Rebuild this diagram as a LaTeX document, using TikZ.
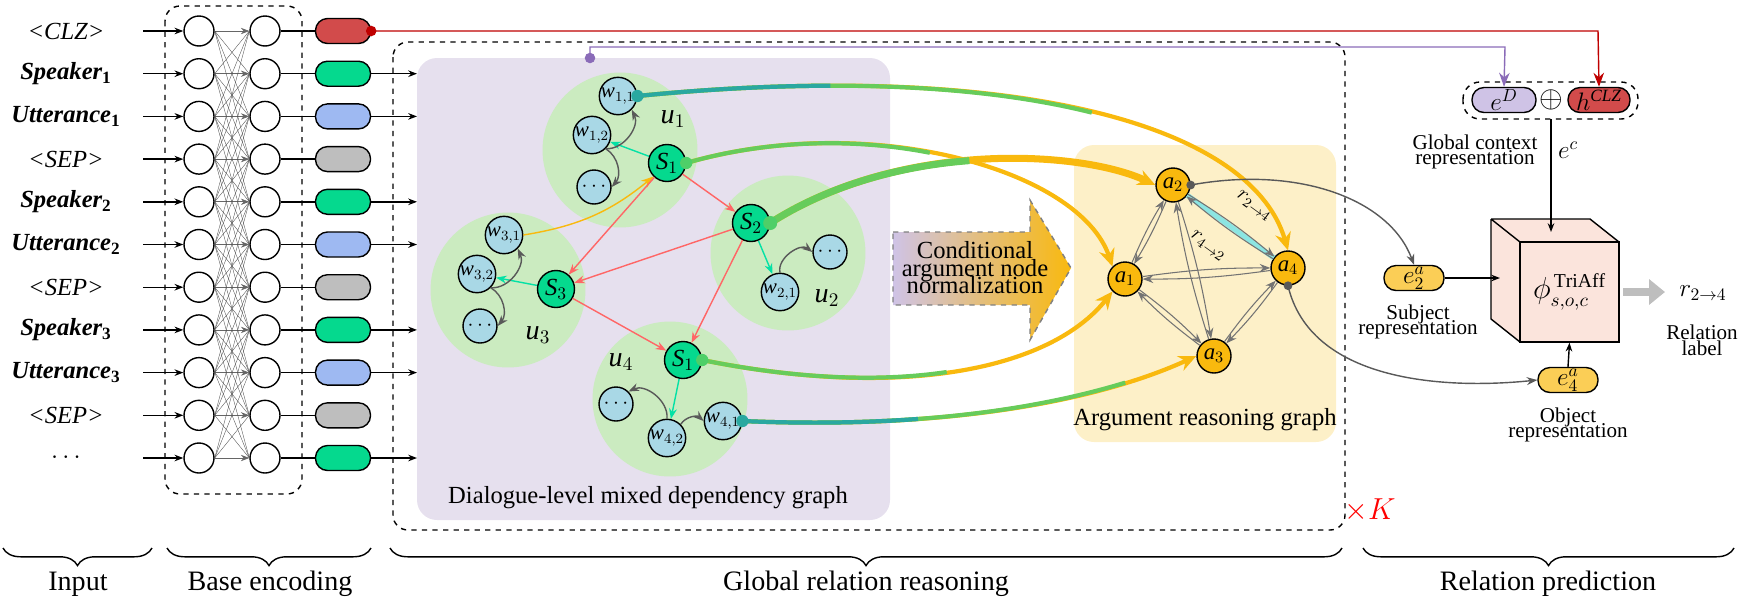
\documentclass[tikz,border=0pt]{standalone}
\usepackage{fontspec}
\setmainfont{Liberation Serif}
\usetikzlibrary{arrows.meta,shapes.geometric,shapes.arrows,decorations.pathreplacing,calc}
\definecolor{cred}{HTML}{D24B4B}
\definecolor{cgreen}{HTML}{05D98E}
\definecolor{cblue}{HTML}{9EB9F2}
\definecolor{cgray}{HTML}{BEBEBE}
\definecolor{lpurple}{HTML}{E6E0EE}
\definecolor{lgreen}{HTML}{CBEBC0}
\definecolor{lblue}{HTML}{A9D8E6}
\definecolor{ayellow}{HTML}{F9B90E}
\definecolor{lyellow}{HTML}{FDF0C8}
\definecolor{cteal}{HTML}{2AA8A0}
\definecolor{cpink}{HTML}{FBE4DC}
\definecolor{lilac}{HTML}{CFC3E6}
\definecolor{cviolet}{HTML}{8A6BB8}
\tikzset{
  labn/.style={font=\fontsize{14}{16}\selectfont\itshape},
  neu/.style={circle,draw,thick,fill=white,minimum width=0.54cm,minimum height=0.6cm,inner sep=0pt},
  pill/.style={draw,thick,rounded corners=0.24cm,minimum width=1.1cm,minimum height=0.5cm,inner sep=0pt},
  ucirc/.style={circle,fill=lgreen,minimum size=3.1cm,inner sep=0pt},
  wn/.style={circle,draw,thick,fill=lblue,minimum size=0.68cm,inner sep=0pt,font=\fontsize{12}{12}\selectfont\itshape},
  sn/.style={circle,draw,thick,fill=cgreen,minimum size=0.74cm,inner sep=0pt,font=\fontsize{14}{14}\selectfont\itshape},
  an/.style={circle,draw,thick,fill=ayellow,minimum size=0.68cm,inner sep=0pt,font=\fontsize{13}{13}\selectfont\itshape},
  ar/.style={-{Stealth[length=5pt]},thick},
  redar/.style={-{Stealth[length=6pt]},draw=red!60,thick},
  cyar/.style={-{Stealth[length=6pt]},draw=cgreen!80!cyan,thick},
  grar/.style={-{Stealth[length=6pt]},draw=black!65,thick},
  aed/.style={-{Stealth[length=6pt]},draw=black!55,semithick},
  capt/.style={font=\fontsize{12}{12}\selectfont,align=center},
  big/.style={font=\fontsize{16}{16}\selectfont},
  brc/.style={decorate,decoration={brace,mirror,amplitude=10pt},thick},
  flow/.style={line width=2.4pt,draw=ayellow,-{Stealth[length=10pt,width=9pt]}},
  flowa/.style={line width=2.4pt,draw=cgreen!60!ayellow,dash pattern=on #1 off 3000pt},
  flowb/.style={line width=2.4pt,draw=cteal,dash pattern=on #1 off 3000pt},
}
\begin{document}
\begin{tikzpicture}[x=0.02cm,y=-0.02cm]
\useasboundingbox (0,0) rectangle (1744,603);

% background regions
\fill[lpurple,rounded corners=0.4cm] (417,58) rectangle (890,520);
\fill[lyellow,rounded corners=0.4cm] (1074,145) rectangle (1336,442);
\draw[dashed,thick,rounded corners=0.3cm] (165,6) rectangle (302,494);
\draw[dashed,thick,rounded corners=0.3cm] (393,42) rectangle (1345,530);

% input rows
\foreach \t [count=\i from 0] in {{\textless CLZ\textgreater},{\textbf{Speaker$_{\mathbf 1}$}},{\textbf{Utterance$_{\mathbf 1}$}},{\textless SEP\textgreater},{\textbf{Speaker$_{\mathbf 2}$}},{\textbf{Utterance$_{\mathbf 2}$}},{\textless SEP\textgreater},{\textbf{Speaker$_{\mathbf 3}$}},{\textbf{Utterance$_{\mathbf 3}$}},{\textless SEP\textgreater},{\textbf{$\cdots$}}} {
  \pgfmathsetmacro{\yy}{31+42.7*\i}
  \node[labn] (t\i) at (66,\yy) {\t};
  \coordinate (in\i) at (143,\yy);
  \node[neu] (l\i) at (199,\yy) {};
  \node[neu] (r\i) at (265,\yy) {};
  \draw[ar] (in\i) -- (l\i);
  \draw[->,>=Stealth,black!60,thin] (l\i) -- (r\i);
}
\foreach \i in {0,...,10}{
  \foreach \j in {0,...,10}{
    \pgfmathtruncatemacro{\d}{abs(\i-\j)}
    \ifnum\d>0 \ifnum\d<4
      \draw[black!70,very thin] (l\i.east) -- (r\j.west);
    \fi\fi
  }
}
\foreach \i/\c in {0/cred,1/cgreen,2/cblue,3/cgray,4/cgreen,5/cblue,6/cgray,7/cgreen,8/cblue,9/cgray,10/cgreen}{
  \pgfmathsetmacro{\yy}{31+42.7*\i}
  \node[pill,fill=\c] (p\i) at (343,\yy) {};
  \draw[thick] (r\i) -- (p\i);
}
\foreach \i in {1,2,4,5,7,8,10}{
  \pgfmathsetmacro{\yy}{31+42.7*\i}
  \coordinate (o\i) at (417,\yy);
  \draw[ar] (p\i.east) -- (o\i);
}

% context lines
\node[pill,fill=lilac,minimum width=1.28cm] (eD) at (1504,100) {\fontsize{14}{14}\selectfont$e^{D}$};
\node (op) at (1551,100) {\fontsize{16}{16}\selectfont$\oplus$};
\node[pill,fill=cred,minimum width=1.24cm] (hC) at (1599,100) {\fontsize{14}{14}\selectfont$h^{\mathit{CLZ}}$};
\draw[dashed,thick,rounded corners=0.34cm] (1463,82) rectangle (1638,119);
\draw[red!75!black,thick,-{Stealth[length=8pt]}] (p0.east) -- (1598,31) -- (hC.north);
\fill[red!75!black] (p0.east) circle (3pt);
\coordinate (pv) at (590,58);
\draw[cviolet,thick,-{Stealth[length=8pt]}] (pv) -- (590,47) -- (1505,47) -- (eD.north);
\fill[cviolet] (pv) circle (3pt);
\node[capt] (gcr) at (1475,152) {Global context\\[-3pt]representation};
\coordinate (ecs) at (1551,119);
\coordinate (ece) at (1551,232);

% cube
\fill[cpink] (1491,219) -- (1590,219) -- (1619,242) -- (1619,342) -- (1520,342) -- (1491,319) -- cycle;
\draw[thick] (1491,219) -- (1590,219) -- (1619,242) (1491,219) -- (1491,319) -- (1520,342) (1491,219) -- (1520,242);
\node[draw,thick,fill=cpink,minimum width=1.98cm,minimum height=2cm,inner sep=0pt] (cube) at (1569.5,292) {\fontsize{16}{16}\selectfont$\phi^{\,\mathrm{TriAff}}_{s,o,c}$};
\draw[ar] (ecs) -- (ece);
\node at (1568,150) {\fontsize{14}{14}\selectfont$e^{c}$};
\coordinate (rs) at (1623,292);
\coordinate (rr) at (1665,292);
\draw[line width=5pt,cgray,-{Triangle[length=9pt,width=14pt]}] (rs) -- (rr);
\node (rl) at (1703,293) {\fontsize{14}{14}\selectfont$r_{2\rightarrow4}$};
\node[capt] at (1702,340) {Relation\\[-3pt]label};

\node[pill,fill=ayellow!70,minimum width=1.2cm] (e2) at (1414,278) {\fontsize{14}{14}\selectfont$e^{a}_{2}$};
\node[capt] at (1418,322) {Subject\\[-3pt]representation};
\coordinate (cl) at (1500,278);
\draw[ar] (e2.east) -- (cl);
\node[pill,fill=ayellow!70,minimum width=1.2cm] (e4) at (1568,380) {\fontsize{14}{14}\selectfont$e^{a}_{4}$};
\node[capt] at (1568,425) {Object\\[-3pt]representation};
\draw[ar] (e4.north) -- (cube.south);

% dialogue graph
\node[ucirc] (u1) at (620,150) {};
\node[ucirc] (u2) at (788,253) {};
\node[ucirc] (u3) at (508,290) {};
\node[ucirc] (u4) at (670,399) {};
\node[font=\fontsize{16}{16}\selectfont\itshape] at (673,119) {u$_1$};
\node[font=\fontsize{16}{16}\selectfont\itshape] at (827,298) {u$_2$};
\node[font=\fontsize{16}{16}\selectfont\itshape] at (538,335) {u$_3$};
\node[font=\fontsize{16}{16}\selectfont\itshape] at (621,362) {u$_4$};
\node[font=\fontsize{14}{14}\selectfont] (dl) at (648,498) {Dialogue-level mixed dependency graph};

\node[wn] (w11) at (618,96) {w$_{1,1}$};
\node[wn] (w12) at (592,135) {w$_{1,2}$};
\node[wn] (d1) at (594,187) {$\cdots$};
\node[sn] (s1) at (667,163) {S$_1$};
\node[sn] (s2) at (751,223) {S$_2$};
\node[wn] (w21) at (780,292) {w$_{2,1}$};
\node[wn] (d2) at (830,252) {$\cdots$};
\node[wn] (w31) at (504,235) {w$_{3,1}$};
\node[wn] (w32) at (477,274) {w$_{3,2}$};
\node[wn] (d3) at (480,326) {$\cdots$};
\node[sn] (s3) at (556,289) {S$_3$};
\node[sn] (s4) at (683,360) {S$_1$};
\node[wn] (d4) at (616,404) {$\cdots$};
\node[wn] (w42) at (667,438) {w$_{4,2}$};
\node[wn] (w41) at (723,421) {w$_{4,1}$};

\draw[cyar] (s1) -- (w12);
\draw[grar] (w12.south east) to[bend right=60] (w11.south east);
\draw[grar] (w12.south east) to[bend left=50] (d1.east);
\draw[cyar] (s2) -- (w21);
\draw[grar] (w21.north) to[bend left=70] (d2.west);
\draw[cyar] (s3) -- (w32);
\draw[grar] (w32.south east) to[bend right=60] (w31.south east);
\draw[grar] (w32.south east) to[bend left=50] (d3.east);
\draw[cyar] (s4) -- (w42);
\draw[grar] (w42.north) to[bend right=60] (d4.north east);
\draw[grar] (w42.north east) to[bend left=50] (w41.west);
\draw[-{Stealth[length=7pt]},draw=ayellow,thick] (w31.east) to[bend right=15] (s1.south west);
\draw[redar] (s1) -- (s2);
\draw[redar] (s1) -- (s3);
\draw[redar] (s2) -- (s3);
\draw[redar] (s2) -- (s4);
\draw[redar] (s3) -- (s4);

% argument graph
\node[an] (a2) at (1173,185) {a$_2$};
\node[an] (a1) at (1125,279) {a$_1$};
\node[an] (a4) at (1288,268) {a$_4$};
\node[an] (a3) at (1214,356) {a$_3$};
\node[font=\fontsize{14}{14}\selectfont] (ag) at (1205,420) {Argument reasoning graph};
\draw[line width=3pt,cteal!60!cyan!50] ($(a2)!0.35cm!(a4)$) -- ($(a4)!0.35cm!(a2)$);
\foreach \a/\b in {a1/a2,a1/a4,a1/a3,a2/a3,a2/a4,a4/a3}{
  \draw[aed] (\a) to[bend left=4] (\b);
  \draw[aed] (\b) to[bend left=4] (\a);
}
\node[rotate=-36,font=\fontsize{12}{12}\selectfont] at (1254,206) {$r_{2\rightarrow4}$};
\node[rotate=-36,font=\fontsize{12}{12}\selectfont] at (1208,246) {$r_{4\rightarrow2}$};

% normalization arrow
\shade[left color=lilac,right color=ayellow,draw=black!50,dashed,thick]
  (893,232) -- (1030,232) -- (1030,200) -- (1071,268) -- (1030,340) -- (1030,305) -- (893,305) -- cycle;
\node[font=\fontsize{14}{14}\selectfont,align=center] (cn) at (975,268) {Conditional\\[-4pt]argument node\\[-4pt]normalization};

% cross-graph flows
\draw[flow] (w11.east) .. controls (1000,60) and (1250,120) .. (a4.north);
\draw[flowa=260pt] (w11.east) .. controls (1000,60) and (1250,120) .. (a4.north);
\draw[flowb=110pt] (w11.east) .. controls (1000,60) and (1250,120) .. (a4.north);
\draw[flow] (s1.east) .. controls (870,110) and (1080,170) .. (a1.north west);
\draw[flowa=140pt] (s1.east) .. controls (870,110) and (1080,170) .. (a1.north west);
\draw[flow,line width=4pt] (s2.east) .. controls (900,140) and (1080,150) .. (a2.west);
\draw[flowa=120pt,line width=4pt] (s2.east) .. controls (900,140) and (1080,150) .. (a2.west);
\draw[flow] (s4.east) .. controls (900,400) and (1050,370) .. (a1.south west);
\draw[flowa=140pt] (s4.east) .. controls (900,400) and (1050,370) .. (a1.south west);
\draw[flow] (w41.east) .. controls (950,430) and (1100,400) .. (a3.west);
\draw[flowa=220pt] (w41.east) .. controls (950,430) and (1100,400) .. (a3.west);
\draw[flowb=100pt] (w41.east) .. controls (950,430) and (1100,400) .. (a3.west);
\fill[cteal] (w11.east) circle (3.5pt) (w41.east) circle (3.5pt);
\fill[cgreen!70!ayellow] (s1.east) circle (3.5pt) (s2.east) circle (4pt) (s4.east) circle (3.5pt);

\draw[grar] (a2.east) .. controls (1300,165) and (1390,200) .. (e2.north);
\draw[grar] (a4.south) .. controls (1310,380) and (1440,390) .. (e4.west);
\fill[black!65] (a2.east) circle (2.5pt) (a4.south) circle (2.5pt);

\node[red,font=\fontsize{16}{16}\selectfont] at (1370,510) {$\times K$};

% braces
\draw[brc] (3,548) -- (152,548);
\draw[brc] (167,548) -- (371,548);
\draw[brc] (390,548) -- (1342,548);
\draw[brc] (1363,548) -- (1734,548);
\node[big] at (78,584) {Input};
\node[big] at (270,584) {Base encoding};
\node[big] at (866,584) {Global relation reasoning};
\node[big] at (1548,584) {Relation prediction};
\end{tikzpicture}
\end{document}
